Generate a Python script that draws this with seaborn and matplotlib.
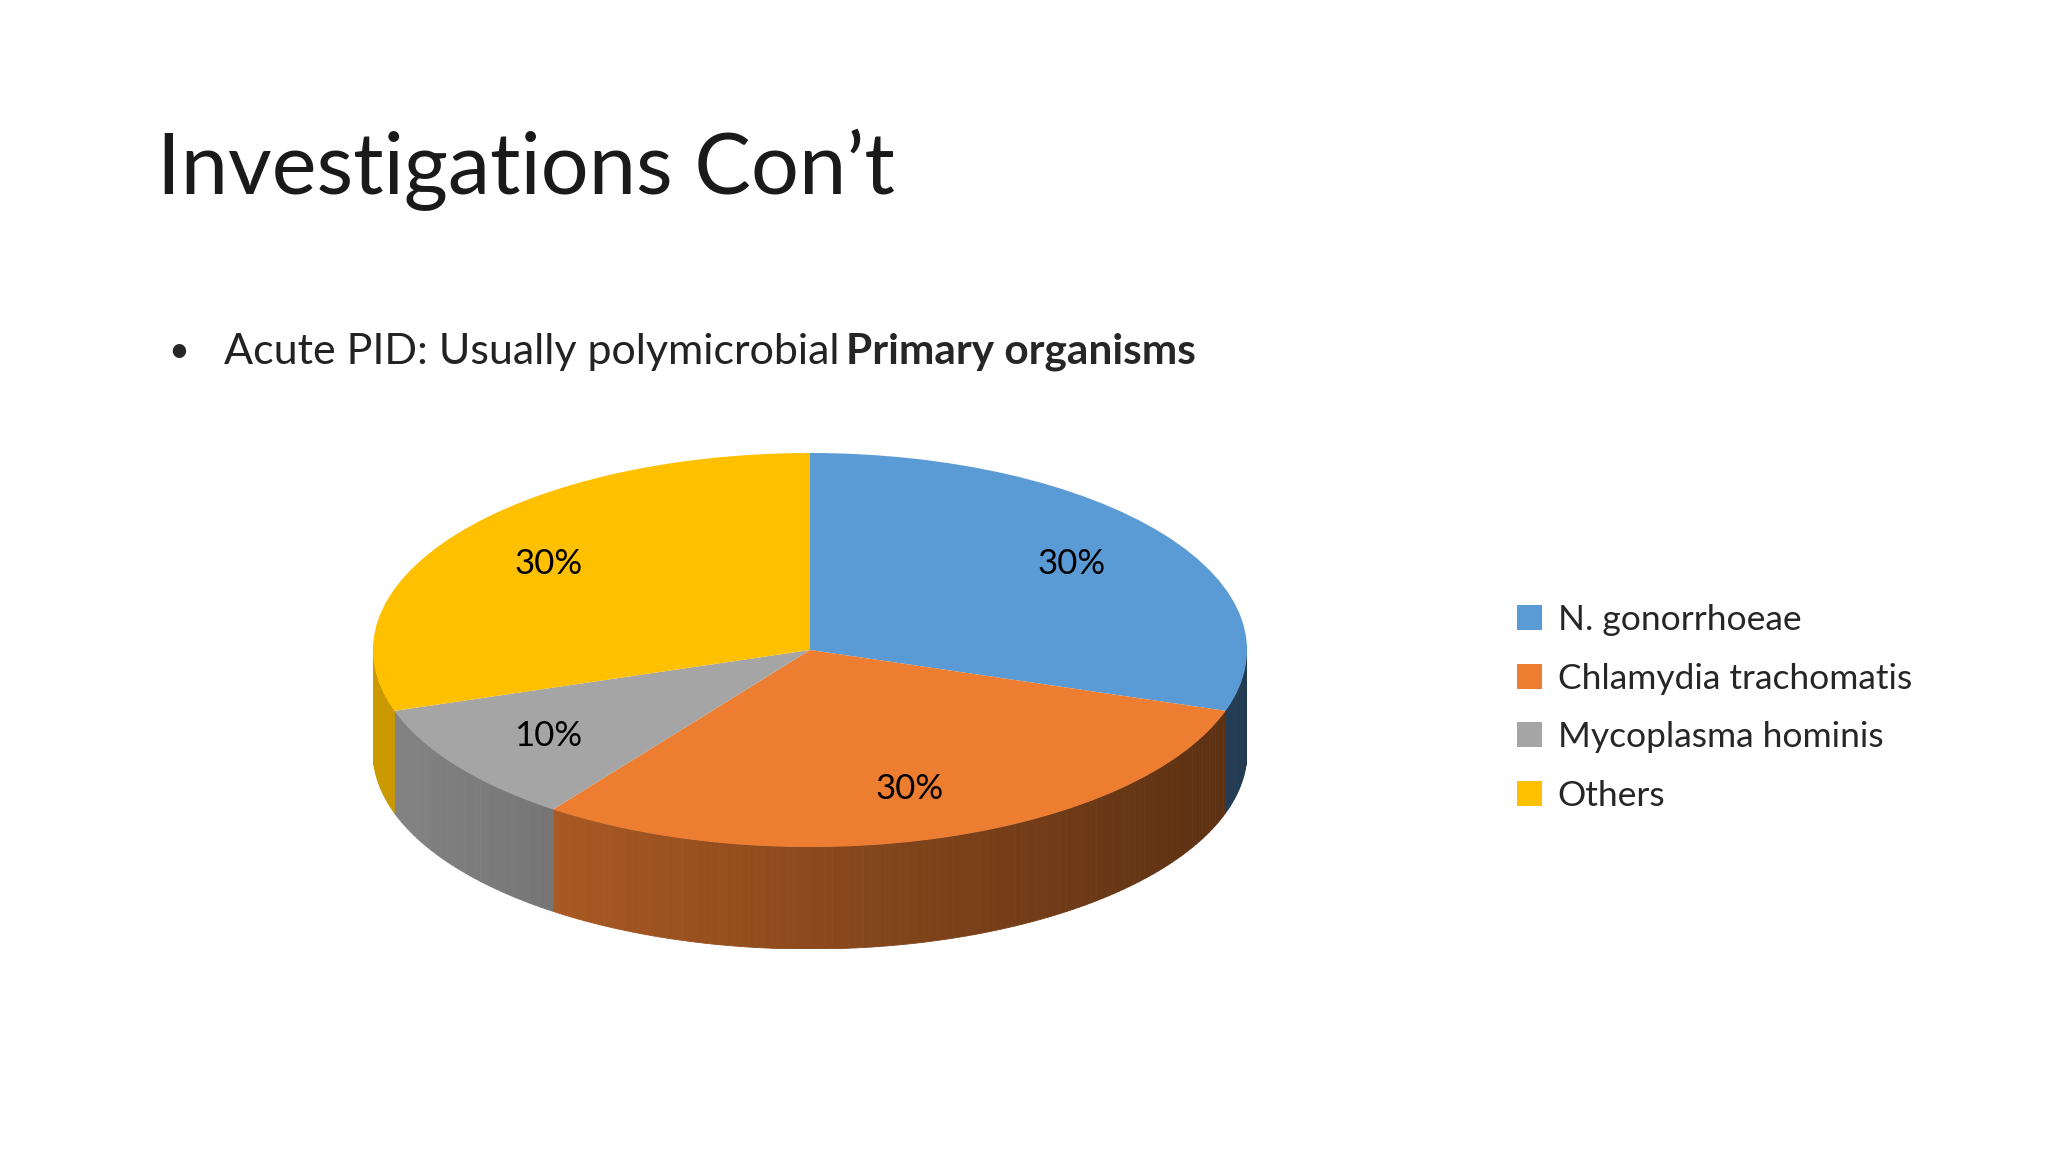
import numpy as np
import matplotlib
matplotlib.use("Agg")
import matplotlib.pyplot as plt
import seaborn as sns
from matplotlib.patches import Polygon

sns.set_theme(style="white")
plt.rcParams['font.family'] = ['Lato', 'DejaVu Sans']

# --- data ---
organisms = ["N. gonorrhoeae", "Chlamydia trachomatis", "Mycoplasma hominis", "Others"]
shares = [30, 30, 10, 30]
colors = ["#5B9BD5", "#ED7D31", "#A5A5A5", "#FFC000"]

W, H = 2048, 1152
fig = plt.figure(figsize=(W / 100, H / 100), dpi=100)
fig.patch.set_facecolor("white")

fig.text(157 / W, 1 - 170 / H, "Investigations Con\u2019t", fontsize=61, color="#1a1a1a", va="center")
fig.text(168 / W, 1 - 352 / H, "\u2022", fontsize=26, va="center")
fig.text(224 / W, 1 - 352 / H, "Acute PID: Usually polymicrobial", fontsize=31, va="center", color="#222222")
fig.text(846 / W, 1 - 352 / H, "Primary organisms", fontsize=30.5, fontweight="bold", va="center")

# pie geometry (pixels)
cx, cy, rx, ry, depth = 810, 650, 437, 197, 102
d = depth / ry
ax = fig.add_axes([(cx - rx) / W, 1 - (cy + ry + depth) / H, 2 * rx / W, (2 * ry + depth) / H])

wedges, texts, autotexts = ax.pie(shares, colors=colors, startangle=90, counterclock=False,
                                  autopct="%1.0f%%", pctdistance=0.74,
                                  wedgeprops=dict(linewidth=0), textprops=dict(fontsize=25, color="black"))
for w in wedges:
    w.set_zorder(3)
for t in autotexts:
    t.set_zorder(4)
ax.set_aspect("auto")
ax.set_xlim(-1, 1)
ax.set_ylim(-1 - d, 1)
ax.axis("off")

# side wall from the slice angles
start = 90.0
for val, col in zip(shares, colors):
    end = start - 360 * val / sum(shares)
    angs = np.linspace(start, end, max(int(abs(start - end)), 2) + 1)
    base = np.array(matplotlib.colors.to_rgb(col))
    for a1, a2 in zip(angs[:-1], angs[1:]):
        t1, t2 = np.radians(a1), np.radians(a2)
        if np.sin(t1) > 0.001 and np.sin(t2) > 0.001:
            continue
        xm = (np.cos(t1) + np.cos(t2)) / 2
        shade = 0.8 - 0.42 * (xm + 1) / 2
        poly = Polygon([(np.cos(t1), np.sin(t1)), (np.cos(t2), np.sin(t2)),
                        (np.cos(t2), np.sin(t2) - d), (np.cos(t1), np.sin(t1) - d)],
                       closed=True, facecolor=base * shade, edgecolor=base * shade, linewidth=0.6, zorder=2)
        ax.add_patch(poly)
    start = end

fig.legend(wedges, organisms, loc="center left", bbox_to_anchor=(1485 / W, 1 - 708 / H),
           frameon=False, fontsize=25.5, handlelength=0.7, handleheight=0.7, labelspacing=0.75,
           handletextpad=0.45)

fig.savefig("out.png", dpi=100, facecolor="white")
